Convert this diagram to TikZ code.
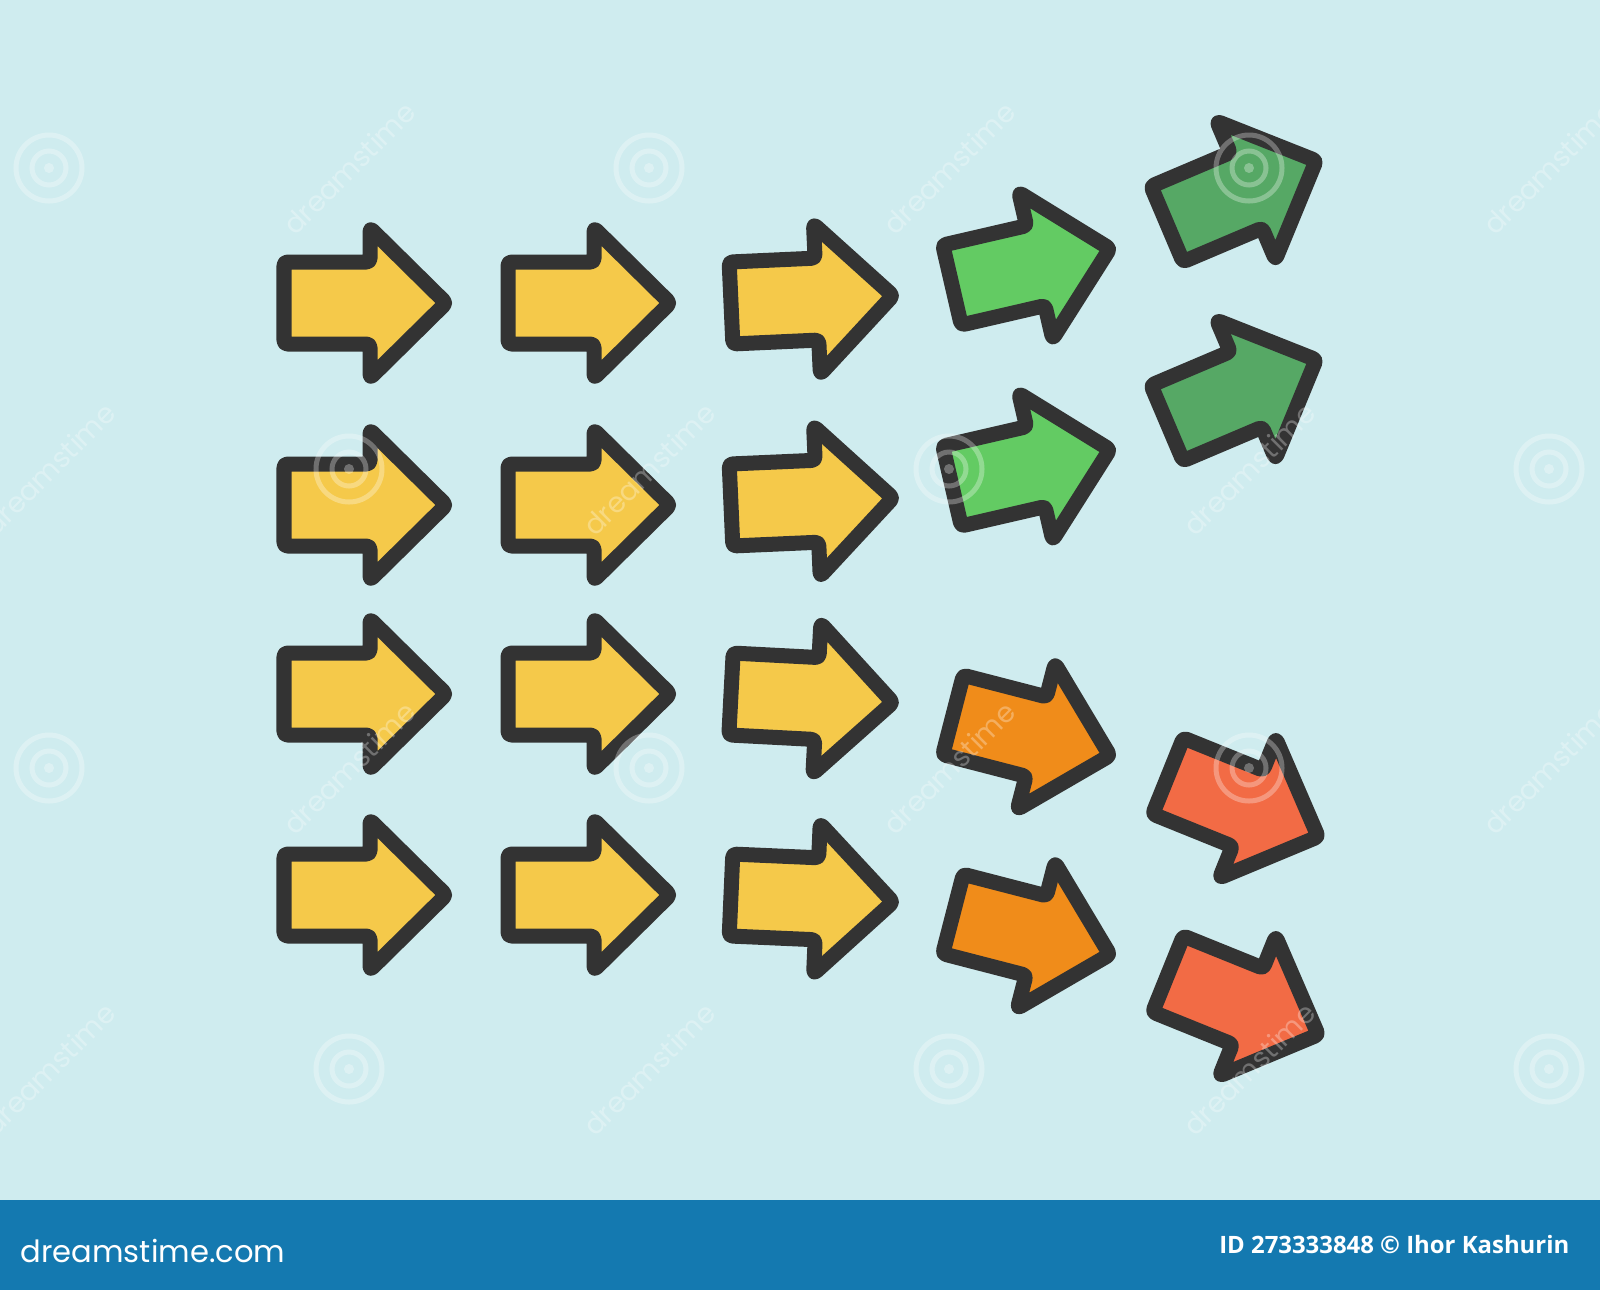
\documentclass[tikz,border=0pt]{standalone}
\usepackage{fontspec}
\setmainfont{Open Sans}
\newfontfamily\logofont{Poppins}
\definecolor{bgcyan}{HTML}{CFECEF}
\definecolor{banner}{HTML}{1479B0}
\definecolor{strokegray}{HTML}{333333}
\definecolor{ayellow}{HTML}{F5C94A}
\definecolor{agreen}{HTML}{63CB63}
\definecolor{adgreen}{HTML}{56A865}
\definecolor{aorange}{HTML}{F08C1A}
\definecolor{ared}{HTML}{F26B45}
\begin{document}
\begin{tikzpicture}[x=0.01cm,y=-0.01cm,
  outline/.style={draw=strokegray, line width=0.15cm, line join=round, rounded corners=1pt},
  pics/fatarrow/.style={code={%
    \path[outline, fill=#1] (0,-41) -- (86,-41) -- (86,-75) -- (162,0) -- (86,75) -- (86,41) -- (0,41) -- cycle;}},
  wmring/.style={draw=white, opacity=0.3, line width=0.05cm},
  wmtext/.style={text=white, opacity=0.3, rotate=45, inner sep=0pt, font=\logofont\fontsize{8}{8}\selectfont}
]
\useasboundingbox (0,0) rectangle (1600,1290);
\fill[bgcyan] (0,0) rectangle (1600,1200);
\fill[banner] (0,1200) rectangle (1600,1290);

% yellow grid
\foreach \yy in {303,505,694,895}{
  \pic at (284,\yy) {fatarrow=ayellow};
  \pic at (508,\yy) {fatarrow=ayellow};
}
\pic[rotate=2.6] at (731,303) {fatarrow=ayellow};
\pic[rotate=2.5] at (731,505) {fatarrow=ayellow};
\pic[rotate=-3] at (731,694) {fatarrow=ayellow};
\pic[rotate=-2.5] at (731,895) {fatarrow=ayellow};

% green
\pic[rotate=13] at (952,285) {fatarrow=agreen};
\pic[rotate=13] at (952,486) {fatarrow=agreen};
\pic[rotate=23] at (1167,224) {fatarrow=adgreen};
\pic[rotate=23] at (1167,423) {fatarrow=adgreen};
% orange / red
\pic[rotate=-14.5] at (953,715) {fatarrow=aorange};
\pic[rotate=-14.5] at (953,914) {fatarrow=aorange};
\pic[rotate=-22] at (1168,776) {fatarrow=ared};
\pic[rotate=-22] at (1168,974) {fatarrow=ared};

% watermark rings
\foreach \wx/\wy in {49/168,649/168,1249/168,349/469,949/469,1549/469,49/768,649/768,1249/768,349/1069,949/1069,1549/1069}{
  \draw[wmring] (\wx,\wy) circle (33);
  \draw[wmring] (\wx,\wy) circle (17);
  \fill[white, opacity=0.3] (\wx,\wy) circle (5);
}
% watermark texts
\foreach \tx/\ty [count=\i] in {349/168,949/168,1549/168,49/469,649/469,1249/469,349/768,949/768,1549/768,49/1069,649/1069,1249/1069}{
  \node[wmtext] (wm\i) at (\tx,\ty) {dreamstime};
}

% banner texts
\node[anchor=base west, inner sep=0pt, text=white, font=\logofont\fontsize{8.7}{8.7}\selectfont] (logo) at (20,1262) {dreamstime.com};
\node[anchor=base east, inner sep=0pt, text=white, font=\bfseries\fontsize{6.8}{6.8}\selectfont] (credit) at (1570,1253) {ID 273333848 © Ihor Kashurin};
\end{tikzpicture}
\end{document}
